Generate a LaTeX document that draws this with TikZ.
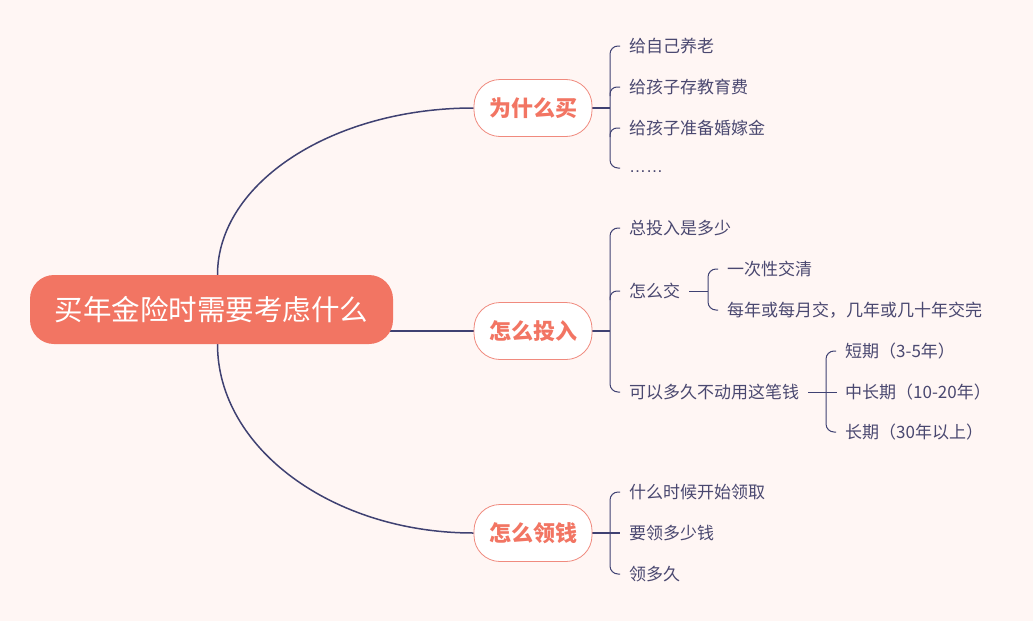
\documentclass[tikz,border=0pt]{standalone}
\usepackage{fontspec}
\setmainfont{Noto Sans CJK SC}
\newfontfamily\dotsfont{Liberation Sans}
\usetikzlibrary{calc}
\definecolor{bgc}{HTML}{FFF6F4}
\definecolor{rootc}{HTML}{F27563}
\definecolor{bordc}{HTML}{F08A7E}
\definecolor{linec}{HTML}{3F4172}
\definecolor{leafc}{HTML}{4A4870}
\pgfdeclarelayer{bg}
\pgfdeclarelayer{lines}
\pgfsetlayers{bg,lines,main}
\tikzset{
  rootbox/.style={fill=rootc, draw=none, rounded corners=24pt, minimum width=363pt, minimum height=69pt, inner sep=0pt, text=white, font=\fontsize{28.5}{31}\selectfont},
  branchbox/.style={fill=white, draw=bordc, line width=0.8pt, rounded corners=26pt, minimum width=118pt, minimum height=57pt, inner sep=0pt, text=rootc, font=\fontsize{22}{25}\selectfont\bfseries},
  leaf/.style={anchor=west, inner sep=0pt, text=leafc, font=\fontsize{17}{19}\selectfont},
  mainline/.style={draw=linec, line width=1.5pt},
  br/.style={draw=linec, line width=1pt, rounded corners=8pt},
  stem/.style={draw=linec, line width=1.6pt}
}
\begin{document}
\begin{tikzpicture}[x=1pt,y=-1pt]
\begin{pgfonlayer}{bg}
\fill[bgc] (0,0) rectangle (1033,621);
\end{pgfonlayer}
\useasboundingbox (0,0) rectangle (1033,621);

% nodes
\node[rootbox] (root) at (211.5,309.5) {买年金险时需要考虑什么};
\node[branchbox] (b1) at (533,108) {为什么买};
\node[branchbox] (b2) at (533,331) {怎么投入};
\node[branchbox] (b3) at (533,533) {怎么领钱};

\node[leaf] (l11) at (629,46) {给自己养老};
\node[leaf] (l12) at (629,87) {给孩子存教育费};
\node[leaf] (l13) at (629,128) {给孩子准备婚嫁金};
\node[leaf] (l14) at (629,168) {\smash{\raisebox{-4pt}{\dotsfont ……}}};

\node[leaf] (l21) at (629,228) {总投入是多少};
\node[leaf] (l22) at (629,291) {怎么交};
\node[leaf] (l23) at (629,392) {可以多久不动用这笔钱};

\node[leaf] (l221) at (727,269) {一次性交清};
\node[leaf] (l222) at (727,310) {每年或每月交，几年或几十年交完};

\node[leaf] (l231) at (845,351) {短期（3-5年）};
\node[leaf] (l232) at (845,392) {中长期（10-20年）};
\node[leaf] (l233) at (845,432) {长期（30年以上）};

\node[leaf] (l31) at (629,492) {什么时候开始领取};
\node[leaf] (l32) at (629,533) {要领多少钱};
\node[leaf] (l33) at (629,574) {领多久};

\begin{pgfonlayer}{lines}
% root connectors
\draw[mainline] ($(root.north)+(6,0)$) .. controls +(0,-92) and +(-141,0) .. (b1.west);
\draw[mainline] ($(root.center |- b2.west)$) -- (b2.west);
\draw[mainline] ($(root.south)+(6,0)$) .. controls +(0,104) and +(-141,0) .. (b3.west);

% group 1
\draw[stem] (b1.east) -- ($(b1.east -| l11.west)+(-19,0)$);
\draw[br] ($(l11.west)+(-9,0)$) -- ($(l11.west)+(-19,0)$) -- ($(l14.west)+(-19,0)$) -- ($(l14.west)+(-9,0)$);
\draw[br,rounded corners=7pt] ($(l12.west)+(-19,9)$) -- ($(l12.west)+(-19,0)$) -- ($(l12.west)+(-9,0)$);
\draw[br,rounded corners=7pt] ($(l13.west)+(-19,9)$) -- ($(l13.west)+(-19,0)$) -- ($(l13.west)+(-9,0)$);

% group 2
\draw[stem] (b2.east) -- ($(b2.east -| l21.west)+(-19,0)$);
\draw[br] ($(l21.west)+(-9,0)$) -- ($(l21.west)+(-19,0)$) -- ($(l23.west)+(-19,0)$) -- ($(l23.west)+(-9,0)$);
\draw[br,rounded corners=7pt] ($(l22.west)+(-19,9)$) -- ($(l22.west)+(-19,0)$) -- ($(l22.west)+(-9,0)$);

% sub group 怎么交
\draw[br] ($(l22.east)+(9,0)$) -- ($(l22.east -| l221.west)+(-19,0)$);
\draw[br] ($(l221.west)+(-9,0)$) -- ($(l221.west)+(-19,0)$) -- ($(l222.west)+(-19,0)$) -- ($(l222.west)+(-9,0)$);

% sub group 可以多久
\draw[br] ($(l23.east)+(9,0)$) -- ($(l232.west)+(-8,0)$);
\draw[br] ($(l231.west)+(-9,0)$) -- ($(l231.west)+(-19,0)$) -- ($(l233.west)+(-19,0)$) -- ($(l233.west)+(-9,0)$);

% group 3
\draw[br,line width=1.3pt] (b3.east) -- ($(l32.west)+(-9,0)$);
\draw[br] ($(l31.west)+(-9,0)$) -- ($(l31.west)+(-19,0)$) -- ($(l33.west)+(-19,0)$) -- ($(l33.west)+(-9,0)$);
\end{pgfonlayer}
\end{tikzpicture}
\end{document}
